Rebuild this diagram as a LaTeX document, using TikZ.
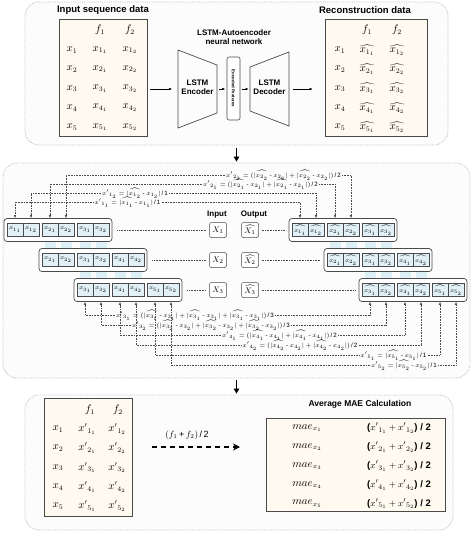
\documentclass[tikz,border=0pt]{standalone}
\usepackage{fontspec}
\setsansfont{Liberation Sans}
\usetikzlibrary{arrows.meta}
\definecolor{cream}{HTML}{FFFAF0}
\definecolor{cellblue}{HTML}{E2F1F8}
\definecolor{stripeblue}{HTML}{DDEFF7}
\definecolor{panelfill}{HTML}{FCFCFC}
\definecolor{panelline}{HTML}{BDBDBD}
\definecolor{edgegray}{HTML}{4A4A4A}
\newcommand\mdf[1]{|\widehat{x_{#1}}\mathbin{\textsf{-}}x_{#1}|}
\newcommand\fOne[1]{${x'}_{#1} = \mdf{#1}$\,\textsf{/\,1}}
\newcommand\fTwo[1]{${x'}_{#1} = (\mdf{#1} + \mdf{#1})$\,\textsf{/\,2}}
\newcommand\fThree[1]{${x'}_{#1} = (\mdf{#1} + \mdf{#1} + \mdf{#1})$\,\textsf{/\,3}}
\newcommand\maeF[1]{\textsf{\bfseries (}${x'}_{#1_1} + {x'}_{#1_2}$\textsf{\bfseries )\ /\ 2}}
\begin{document}
\begin{tikzpicture}[x=1pt,y=-1pt,
  panel/.style={draw=panelline, densely dotted, line width=0.8pt, rounded corners=14pt, fill=panelfill},
  tbl/.style={draw=edgegray, line width=0.7pt, fill=cream, inner sep=0pt},
  title/.style={font=\sffamily\bfseries\fontsize{9.5}{10}\selectfont},
  tnum/.style={font=\fontsize{10.5}{11}\selectfont, inner sep=0pt},
  cell/.style={draw=edgegray, line width=0.5pt, fill=cellblue, minimum width=16pt, minimum height=13pt, inner sep=0pt, font=\fontsize{6.5}{7}\selectfont},
  grp/.style={draw=edgegray, line width=0.7pt, rounded corners=3pt, fill=white, minimum width=108pt, minimum height=23pt, inner sep=0pt},
  xbox/.style={draw=edgegray, line width=0.5pt, rounded corners=2pt, fill=white, minimum width=17pt, minimum height=15pt, inner sep=0pt, font=\fontsize{8.5}{9}\selectfont},
  link/.style={densely dotted, draw=edgegray, line width=0.6pt},
  arrtip/.style={-{Latex[length=3pt,width=2.6pt]}},
  frm/.style={font=\fontsize{6.2}{7}\selectfont, inner sep=1pt},
  sarr/.style={draw=black, line width=0.5pt, -{Latex[length=3pt,width=2.6pt]}},
  bigarr/.style={draw=black, line width=1.4pt, -{Triangle[length=5pt,width=5.5pt]}},
  lbl/.style={font=\sffamily\bfseries\fontsize{8}{9.5}\selectfont, align=center, inner sep=0pt}
]
\useasboundingbox (0,0) rectangle (474,541);

% panels
\node[panel, minimum width=423pt, minimum height=143pt] (toppanel) at (236.5,73.5) {};
\node[panel, minimum width=467pt, minimum height=215pt] (midpanel) at (236.5,270.5) {};
\node[panel, minimum width=428pt, minimum height=135pt] (botpanel) at (239,462.5) {};

\draw[bigarr, shorten <=3pt, shorten >=1pt] (toppanel.south) -- (midpanel.north);
\draw[bigarr, shorten <=2pt, shorten >=1pt] (midpanel.south) -- (midpanel.south |- botpanel.north);

% ---------- top panel ----------
\node[title] (t1) at (103,10) {Input sequence data};
\node[title] (t2) at (365,10) {Reconstruction data};
\node[tbl, minimum width=88pt, minimum height=117pt] (intab) at (103,77.5) {};
\node[tbl, minimum width=102pt, minimum height=117pt] (rectab) at (376,77.5) {};
\node[tnum] (ih1) at (100,30) {$f_1$};
\node[tnum] (ih2) at (130,30) {$f_2$};
\node[tnum] (rh1) at (367,30) {$f_1$};
\node[tnum] (rh2) at (397,30) {$f_2$};
\foreach \i/\yy in {1/50,2/69.3,3/88.6,4/107.9,5/127.2}{
  \node[tnum] (ir\i) at (72,\yy) {$x_\i$};
  \node[tnum] (ia\i) at (100,\yy) {$x_{\i_1}$};
  \node[tnum] (ib\i) at (130,\yy) {$x_{\i_2}$};
  \node[tnum] (rr\i) at (340,\yy) {$x_\i$};
  \node[tnum] (ra\i) at (367,\yy) {$\widehat{x_{\i_1}}$};
  \node[tnum] (rb\i) at (397,\yy) {$\widehat{x_{\i_2}}$};
}
\node[lbl] (aetitle) at (234,37) {LSTM-Autoencoder\\neural network};
\draw[edgegray, line width=0.7pt] (178,50) -- (217,65) -- (217,113) -- (178,128) -- cycle;
\draw[edgegray, line width=0.7pt] (250,67) -- (289,52) -- (289,126) -- (250,111) -- cycle;
\node[lbl] (enc) at (197.5,87) {LSTM\\Encoder};
\node[lbl] (dec) at (269.5,87) {LSTM\\Decoder};
\node[draw=edgegray, line width=0.6pt, rounded corners=2pt, fill=white, minimum width=13pt, minimum height=63pt, inner sep=0pt] (encf) at (233.5,88.5) {};
\node[font=\sffamily\bfseries\fontsize{4.3}{5}\selectfont, rotate=-90, inner sep=0pt] (encft) at (encf.center) {Encoded Features};
\coordinate (encL) at (178,89);
\coordinate (encR) at (217,89);
\coordinate (decL) at (250,89);
\coordinate (decR) at (289,89);
\draw[sarr, shorten <=3pt, shorten >=6pt] (intab.east |- encL) -- (encL);
\draw[sarr, shorten <=1.5pt, shorten >=1.5pt] (encR) -- (encf.west |- encR);
\draw[sarr, shorten <=1.5pt, shorten >=1.5pt] (encf.east |- decL) -- (decL);
\draw[sarr, shorten <=4pt, shorten >=12pt] (decR) -- (rectab.west |- decR);

% ---------- middle panel ----------
% stripes between rows
\foreach \r/\ya/\yb in {1/230/260, 2/260/290}{
  \foreach \dg in {0,1}{
    \foreach \j in {0,1}{
      \pgfmathsetmacro\cx{7+35*(\r+\dg)+8+16*\j}
      \pgfmathsetmacro\ox{292+35*(\r+\dg)+8+16*\j}
      \fill[stripeblue] (\cx-5.5,\ya) rectangle (\cx+5.5,\yb);
      \fill[stripeblue] (\ox-5.5,\ya) rectangle (\ox+5.5,\yb);
    }
  }
}
\foreach \r/\ry in {1/230,2/260,3/290}{
  \pgfmathsetmacro\xa{7+35*(\r-1)+51}
  \pgfmathsetmacro\xb{292+35*(\r-1)+51}
  \node[grp] (ig-\r) at (\xa,\ry) {};
  \node[grp] (og-\r) at (\xb,\ry) {};
  \foreach \k in {0,1,2}{
    \pgfmathtruncatemacro\g{\r-1+\k}
    \pgfmathtruncatemacro\n{\g+1}
    \foreach \j in {1,2}{
      \pgfmathsetmacro\cx{7+35*\g+8+16*(\j-1)}
      \pgfmathsetmacro\ox{292+35*\g+8+16*(\j-1)}
      \node[cell] (i-\r-\g-\j) at (\cx,\ry) {$x_{\n_\j}$};
      \node[cell] (o-\r-\g-\j) at (\ox,\ry) {$\widehat{x_{\n_\j}}$};
    }
  }
  \node[xbox] (X-\r) at (218,\ry) {$X_\r$};
  \node[xbox] (Xh-\r) at (250,\ry) {$\widehat{X_\r}$};
  \draw[link, shorten <=5pt, shorten >=3pt] (ig-\r.east) -- (X-\r.west);
  \draw[link, shorten <=3pt, shorten >=3pt] (Xh-\r.east) -- (og-\r.west);
}
\node[font=\sffamily\bfseries\fontsize{8}{9}\selectfont, inner sep=0pt] (inlab) at (217,215) {Input};
\node[font=\sffamily\bfseries\fontsize{8}{9}\selectfont, inner sep=0pt] (outlab) at (254,215) {Output};

% formulas above
\node[frm] (fA) at (283.5,175) {\fTwo{2_2}};
\node[frm] (fB) at (260.5,184) {\fTwo{2_1}};
\node[frm] (fC) at (135,193) {\fOne{1_2}};
\node[frm] (fD) at (127.5,202) {\fOne{1_1}};
\draw[link, arrtip] (fA.west) -| (i-1-1-2.north |- ig-1.north);
\draw[link, arrtip] (fA.east) -| (o-1-1-2.north |- og-1.north);
\draw[link, arrtip] (fB.west) -| (i-1-1-1.north |- ig-1.north);
\draw[link, arrtip] (fB.east) -| (o-1-1-1.north |- og-1.north);
\draw[link, arrtip] (fC.west) -| (i-1-0-2.north |- ig-1.north);
\draw[link, arrtip] (fC.east) -| (o-1-0-2.north |- og-1.north);
\draw[link, arrtip] (fD.west) -| (i-1-0-1.north |- ig-1.north);
\draw[link, arrtip] (fD.east) -| (o-1-0-1.north |- og-1.north);

% formulas below
\node[frm] (fE) at (195,315) {\fThree{3_1}};
\node[frm] (fF) at (211,325) {\fThree{3_2}};
\node[frm] (fG) at (279.5,335) {\fTwo{4_1}};
\node[frm] (fH) at (300,345) {\fTwo{4_2}};
\node[frm] (fI) at (393.5,355) {\fOne{5_1}};
\node[frm] (fJ) at (404,365) {\fOne{5_2}};
\draw[link, arrtip] (fE.west) -| (i-3-2-1.south |- ig-3.south);
\draw[link, arrtip] (fE.east) -| (o-3-2-1.south |- og-3.south);
\draw[link, arrtip] (fF.west) -| (i-3-2-2.south |- ig-3.south);
\draw[link, arrtip] (fF.east) -| (o-3-2-2.south |- og-3.south);
\draw[link, arrtip] (fG.west) -| (i-3-3-1.south |- ig-3.south);
\draw[link, arrtip] (fG.east) -| (o-3-3-1.south |- og-3.south);
\draw[link, arrtip] (fH.west) -| (i-3-3-2.south |- ig-3.south);
\draw[link, arrtip] (fH.east) -| (o-3-3-2.south |- og-3.south);
\draw[link, arrtip] (fI.west) -| (i-3-4-1.south |- ig-3.south);
\draw[link, arrtip] (fI.east) -| (o-3-4-1.south |- og-3.south);
\draw[link, arrtip] (fJ.west) -| (i-3-4-2.south |- ig-3.south);
\draw[link, arrtip] (fJ.east) -| (o-3-4-2.south |- og-3.south);

% ---------- bottom panel ----------
\node[tbl, minimum width=88pt, minimum height=118pt] (btab) at (88,457) {};
\node[tnum] (bh1) at (90,410) {$f_1$};
\node[tnum] (bh2) at (118,410) {$f_2$};
\foreach \i/\yy in {1/429,2/448.3,3/467.6,4/486.9,5/506.2}{
  \node[tnum] (br\i) at (58,\yy) {$x_\i$};
  \node[tnum] (ba\i) at (87,\yy) {${x'}_{\i_1}$};
  \node[tnum] (bb\i) at (117,\yy) {${x'}_{\i_2}$};
}
\node[title, font=\sffamily\bfseries\fontsize{8.5}{9}\selectfont] (maetitle) at (360,404) {Average MAE Calculation};
\node[tbl, minimum width=179pt, minimum height=93pt] (rtab) at (355.5,464.5) {};
\foreach \i/\yy in {1/428,2/447,3/466,4/485,5/503.5}{
  \node[tnum] (m\i) at (307,\yy) {$mae_{x_\i}$};
  \node[tnum, font=\fontsize{9.5}{10}\selectfont] (mf\i) at (399,\yy) {\maeF{\i}};
}
\coordinate (da1) at (152,447);
\coordinate (da2) at (240,447);
\draw[line width=1.5pt, dash pattern=on 5pt off 4pt, -{Stealth[length=7pt,width=7pt]}] (da1) -- (da2);
\node[font=\fontsize{9}{10}\selectfont, inner sep=0pt] (avg) at (187,435) {$(f_1$\,\textsf{+}\,$f_2)$\,\textsf{/\,2}};
\end{tikzpicture}
\end{document}
